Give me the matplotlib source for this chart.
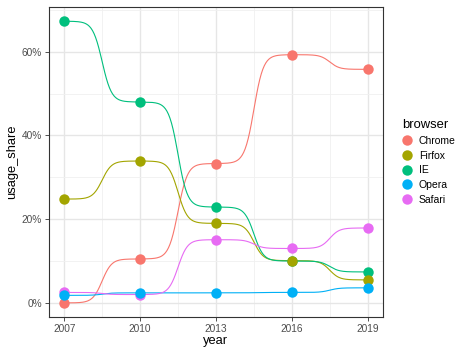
import numpy as np
import matplotlib.pyplot as plt
from matplotlib.lines import Line2D

plt.rcParams['font.family'] = ['Liberation Sans', 'DejaVu Sans']

years = [2007, 2010, 2013, 2016, 2019]
browsers = ["Chrome", "Firfox", "IE", "Opera", "Safari"]
chrome = [0.0, 10.5, 33.3, 59.3, 55.8]
firfox = [24.8, 33.9, 19.0, 10.1, 5.5]
ie = [67.3, 48.0, 22.9, 10.0, 7.4]
opera = [1.8, 2.4, 2.4, 2.5, 3.6]
safari = [2.5, 2.0, 15.1, 13.0, 17.9]

shares = {"Chrome": chrome, "Firfox": firfox, "IE": ie, "Opera": opera, "Safari": safari}
colors = {"Chrome": "#F8766D", "Firfox": "#A3A500", "IE": "#00BF7D",
          "Opera": "#00B0F6", "Safari": "#E76BF3"}


def bump(xs, ys, smooth=8, n=100):
    # sigmoid pieces between consecutive points (like ggbump)
    out_x, out_y = [], []
    t = np.linspace(-smooth, smooth, n)
    s = np.exp(t) / (np.exp(t) + 1)
    for i in range(len(xs) - 1):
        out_x.append((t + smooth) / (2 * smooth) * (xs[i + 1] - xs[i]) + xs[i])
        out_y.append(s * (ys[i + 1] - ys[i]) + ys[i])
    return np.concatenate(out_x), np.concatenate(out_y)


fig = plt.figure(figsize=(4.74, 3.55), dpi=100)
ax = fig.add_axes([0.1034, 0.107, 0.7046, 0.873])

for b in browsers:
    cx, cy = bump(years, shares[b])
    ax.plot(cx, cy, color=colors[b], lw=0.8, zorder=3)

for b in ["Chrome", "IE", "Firfox", "Safari", "Opera"]:
    ax.plot(years, shares[b], "o", color=colors[b], markersize=7.5, mec="none", zorder=4)

ax.set_xlim(2006.4, 2019.6)
ax.set_ylim(-3.37, 70.67)
ax.set_xticks(years)
ax.set_xticklabels([str(y) for y in years])
ax.set_yticks([0, 20, 40, 60])
ax.set_yticklabels(["0%", "20%", "40%", "60%"])
ax.set_xticks([2008.5, 2011.5, 2014.5, 2017.5], minor=True)
ax.set_yticks([10, 30, 50, 70], minor=True)
ax.grid(which="major", color="#E6E6E6", lw=1.0, zorder=0)
ax.grid(which="minor", color="#F0F0F0", lw=0.6, zorder=0)
ax.set_axisbelow(True)
ax.tick_params(which="major", length=3, width=0.6, color="#333333",
               labelsize=7.3, labelcolor="#4D4D4D", pad=2)
ax.tick_params(which="minor", length=0)
for sp in ax.spines.values():
    sp.set_color("#333333")
    sp.set_linewidth(0.8)

ax.set_xlabel("year", fontsize=9.3, labelpad=1)
ax.set_ylabel("usage_share", fontsize=9.3, labelpad=3)

handles = [Line2D([], [], marker="o", ls="none", color=colors[b], markersize=7.5, mec="none")
           for b in browsers]
leg = ax.legend(handles, browsers, title="browser", loc="center left",
                bbox_to_anchor=(1.045, 0.5), frameon=False, fontsize=7.5,
                title_fontsize=9.4, handlelength=1.0, handletextpad=0.6,
                labelspacing=0.45, alignment="left", borderaxespad=0)

fig.savefig("out.png", dpi=100)
